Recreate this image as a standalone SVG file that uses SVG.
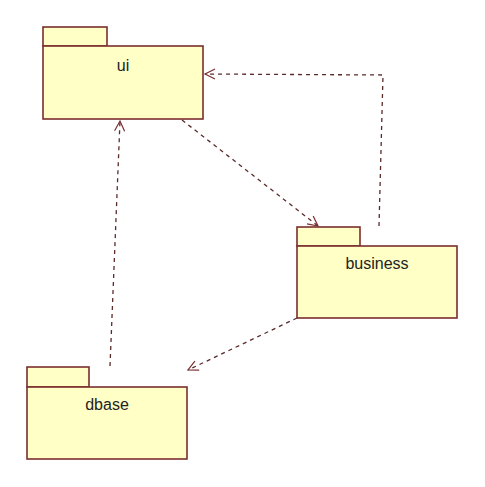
<svg xmlns="http://www.w3.org/2000/svg" width="485" height="487" viewBox="0 0 485 487">
<style>
.pk{fill:#FFFFC6;stroke:#7B2E2E;stroke-width:1.6}
.lb{font-family:"Liberation Sans",Arial,sans-serif;font-size:16px;fill:#222;text-anchor:middle}
.dep{fill:none;stroke:#5A2A2A;stroke-width:1.3;stroke-dasharray:4,4}
</style>
<defs>
<marker id="ah" markerWidth="14" markerHeight="12" refX="11" refY="6" orient="auto" markerUnits="userSpaceOnUse">
<path d="M1,1 L11,6 L1,11" fill="none" stroke="#7B2E2E" stroke-width="1.2"/>
</marker>
</defs>
<rect width="485" height="487" fill="#fff"/>
<g id="ui">
<rect class="pk" x="43" y="27" width="64" height="19"/>
<rect class="pk" x="43" y="46" width="160" height="73"/>
<text class="lb" x="123" y="71">ui</text>
</g>
<g id="business">
<rect class="pk" x="297" y="227" width="63" height="19"/>
<rect class="pk" x="297" y="246" width="160" height="72"/>
<text class="lb" x="377" y="269">business</text>
</g>
<g id="dbase">
<rect class="pk" x="27" y="367" width="62" height="20"/>
<rect class="pk" x="27" y="387" width="160" height="72"/>
<text class="lb" x="107" y="410">dbase</text>
</g>
<g id="connectors">
<path class="dep" d="M182,120 L318,226" marker-end="url(#ah)"/>
<path class="dep" d="M379,226 L383,75 L205,74" marker-end="url(#ah)"/>
<path class="dep" d="M297,318 L188,370" marker-end="url(#ah)"/>
<path class="dep" d="M110,366 L120,121" marker-end="url(#ah)"/>
</g>
</svg>
